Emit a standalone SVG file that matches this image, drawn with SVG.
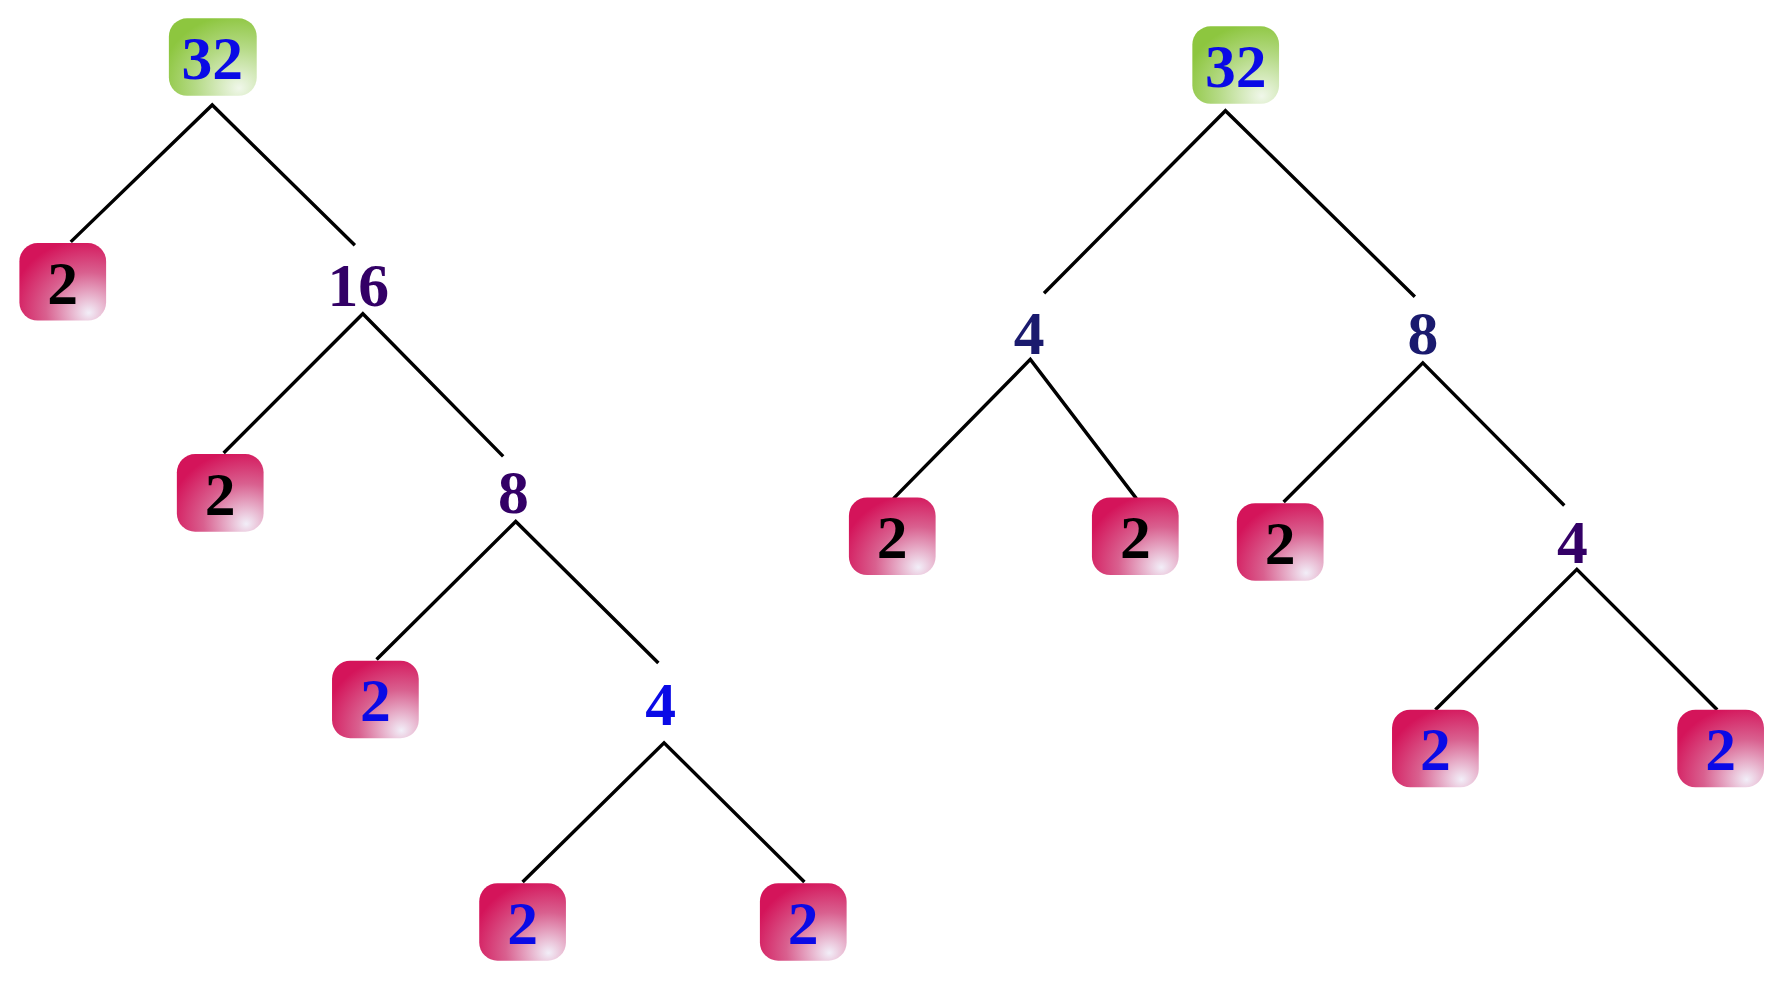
<svg xmlns="http://www.w3.org/2000/svg" width="1780" height="982" viewBox="0 0 1780 982">
<style>
.t{font-family:"Liberation Serif",serif;font-weight:bold;font-size:54px;text-anchor:middle}
.e{stroke:#000;stroke-width:3;fill:none}
.p{fill:url(#gp)}.g{fill:url(#gg)}
</style>
<defs>
<radialGradient id="gp" cx="0.8" cy="0.85" r="0.9" fx="0.8" fy="0.9"><stop offset="0" stop-color="#f2eef8"/><stop offset="0.55" stop-color="#d9608f"/><stop offset="1" stop-color="#d4145a"/></radialGradient>
<radialGradient id="gg" cx="0.8" cy="0.85" r="0.9" fx="0.8" fy="0.9"><stop offset="0" stop-color="#f0f7ea"/><stop offset="0.55" stop-color="#b5da86"/><stop offset="1" stop-color="#8dc63f"/></radialGradient>
</defs>
<rect width="1780" height="982" fill="#fff"/>
<g transform="scale(1.141)">
<g id="connectors">
<path class="e" d="M62 212L186 92L311 215M196 397L318 275L441 400M330 578L452 457L577 581M458 773L582 651L705 773"/>
<path class="e" d="M915 257L1074 97L1240 260M783 437L903 315L996 437M1125 440L1247 318L1371 443M1258 622L1382 499L1505 622"/>
</g>
<g id="L32"><rect class="g" x="148" y="16" width="77" height="68" rx="16"/><text class="t" x="186" y="69" fill="#0a0ae6">32</text></g>
<g id="L2a"><rect class="p" x="17" y="213" width="76" height="68" rx="16"/><text class="t" x="55" y="266" fill="#000">2</text></g>
<g id="L16"><text class="t" x="314" y="268" fill="#330066">16</text></g>
<g id="L2b"><rect class="p" x="155" y="398" width="76" height="68" rx="16"/><text class="t" x="193" y="451" fill="#000">2</text></g>
<g id="L8"><text class="t" x="450" y="450" fill="#330066">8</text></g>
<g id="L2c"><rect class="p" x="291" y="579" width="76" height="68" rx="16"/><text class="t" x="329" y="632" fill="#0a0ae6">2</text></g>
<g id="L4"><text class="t" x="579" y="635" fill="#0a0ae6">4</text></g>
<g id="L2d"><rect class="p" x="420" y="774" width="76" height="68" rx="16"/><text class="t" x="458" y="827" fill="#0a0ae6">2</text></g>
<g id="L2e"><rect class="p" x="666" y="774" width="76" height="68" rx="16"/><text class="t" x="704" y="827" fill="#0a0ae6">2</text></g>
<g id="R32"><rect class="g" x="1045" y="23" width="76" height="68" rx="16"/><text class="t" x="1083" y="76" fill="#0a0ae6">32</text></g>
<g id="R4"><text class="t" x="902" y="310" fill="#1a1a6e">4</text></g>
<g id="R8"><text class="t" x="1247" y="310" fill="#1a1a6e">8</text></g>
<g id="R2a"><rect class="p" x="744" y="436" width="76" height="68" rx="16"/><text class="t" x="782" y="489" fill="#000">2</text></g>
<g id="R2b"><rect class="p" x="957" y="436" width="76" height="68" rx="16"/><text class="t" x="995" y="489" fill="#000">2</text></g>
<g id="R2c"><rect class="p" x="1084" y="441" width="76" height="68" rx="16"/><text class="t" x="1122" y="494" fill="#000">2</text></g>
<g id="R4b"><text class="t" x="1378" y="493" fill="#330066">4</text></g>
<g id="R2d"><rect class="p" x="1220" y="622" width="76" height="68" rx="16"/><text class="t" x="1258" y="675" fill="#0a0ae6">2</text></g>
<g id="R2e"><rect class="p" x="1470" y="622" width="76" height="68" rx="16"/><text class="t" x="1508" y="675" fill="#0a0ae6">2</text></g>
</g>
</svg>
